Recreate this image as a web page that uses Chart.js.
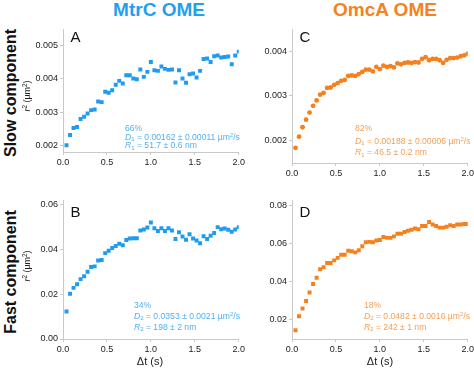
<!DOCTYPE html>
<html>
<head>
<meta charset="utf-8">
<script src="https://cdn.jsdelivr.net/npm/chart.js@4.4.1/dist/chart.umd.min.js"></script>
<style>
  html, body { margin:0; padding:0; background:#fff; width:474px; height:368px; overflow:hidden; }
  body { position:relative; font-family:"Liberation Sans", Arial, sans-serif; }
  canvas { position:absolute; }
  .t { position:absolute; white-space:nowrap; line-height:1; }
  .c { transform:translate(-50%,-50%); }
  .r { transform:translate(-50%,-50%) rotate(-90deg); }
  .l { transform:translateY(-50%); }
  sup, sub { font-size:0.7em; line-height:0; position:relative; vertical-align:baseline; }
  sup { top:-0.45em; }
  sub { top:0.3em; }
  .ann { font-size:8.6px; }
</style>
</head>
<body>
<canvas id="cA"></canvas>
<canvas id="cB"></canvas>
<canvas id="cC"></canvas>
<canvas id="cD"></canvas>

<div class="t c" style="left:159px;top:9px;font-size:19px;font-weight:bold;color:#239ff0;">MtrC OME</div>
<div class="t c" style="left:385px;top:9px;font-size:19px;font-weight:bold;color:#f58220;">OmcA OME</div>
<div class="t r" style="left:11px;top:93px;font-size:16px;font-weight:bold;color:#111;">Slow component</div>
<div class="t r" style="left:11px;top:272px;font-size:16px;font-weight:bold;color:#111;">Fast component</div>
<div class="t r" style="left:27px;top:96px;font-size:9px;color:#222;"><i>r</i><sup>2</sup> (µm<sup>2</sup>)</div>
<div class="t r" style="left:27px;top:266px;font-size:9px;color:#222;"><i>r</i><sup>2</sup> (µm<sup>2</sup>)</div>
<div class="t c" style="left:150px;top:361px;font-size:11px;color:#222;">Δt (s)</div>
<div class="t c" style="left:380px;top:361px;font-size:11px;color:#222;">Δt (s)</div>

<div class="t c" style="left:75.5px;top:35.5px;font-size:15px;color:#111;">A</div>
<div class="t c" style="left:75.5px;top:211px;font-size:15px;color:#111;">B</div>
<div class="t c" style="left:305px;top:36px;font-size:15px;color:#111;">C</div>
<div class="t c" style="left:305px;top:211px;font-size:15px;color:#111;">D</div>

<div class="t l ann" style="left:125px;top:128px;color:#52b0f2;">66%</div>
<div class="t l ann" style="left:125px;top:136.5px;color:#52b0f2;"><i>D</i><sub>1</sub> = 0.00162 ± 0.00011 µm<sup>2</sup>/s</div>
<div class="t l ann" style="left:125px;top:145px;color:#52b0f2;"><i>R</i><sub>1</sub> = 51.7 ± 0.6 nm</div>

<div class="t l ann" style="left:355px;top:128px;color:#f5a055;">82%</div>
<div class="t l ann" style="left:355px;top:140.5px;color:#f5a055;"><i>D</i><sub>1</sub> = 0.00188 ± 0.00006 µm<sup>2</sup>/s</div>
<div class="t l ann" style="left:355px;top:152px;color:#f5a055;"><i>R</i><sub>1</sub> = 46.5 ± 0.2 nm</div>

<div class="t l ann" style="left:134px;top:305px;color:#52b0f2;">34%</div>
<div class="t l ann" style="left:134px;top:315.5px;color:#52b0f2;"><i>D</i><sub>2</sub> = 0.0353 ± 0.0021 µm<sup>2</sup>/s</div>
<div class="t l ann" style="left:134px;top:326.5px;color:#52b0f2;"><i>R</i><sub>2</sub> = 198 ± 2 nm</div>

<div class="t l ann" style="left:364px;top:305px;color:#f5a055;">18%</div>
<div class="t l ann" style="left:364px;top:315.5px;color:#f5a055;"><i>D</i><sub>2</sub> = 0.0482 ± 0.0016 µm<sup>2</sup>/s</div>
<div class="t l ann" style="left:364px;top:326.5px;color:#f5a055;"><i>R</i><sub>2</sub> = 242 ± 1 nm</div>

<script>
// ---- data ----
const dt = [0.04,0.08,0.12,0.16,0.20,0.24,0.28,0.32,0.36,0.40,
            0.44,0.48,0.52,0.56,0.60,0.64,0.68,0.72,0.76,0.80,
            0.84,0.88,0.92,0.96,1.00,1.04,1.08,1.12,1.16,1.20,
            1.24,1.28,1.32,1.36,1.40,1.44,1.48,1.52,1.56,1.60,
            1.64,1.68,1.72,1.76,1.80,1.84,1.88,1.92,1.96,2.00];

const slowMtrC = [0.00200,0.00231,0.00252,0.00255,0.00279,0.00286,0.00296,0.00306,0.00308,0.00332,
                  0.00330,0.00361,0.00358,0.00366,0.00382,0.00394,0.00386,0.00411,0.00411,0.00401,
                  0.00399,0.00428,0.00406,0.00421,0.00451,0.00426,0.00424,0.00437,0.00430,0.00427,
                  0.00428,0.00389,0.00426,0.00401,0.00388,0.00414,0.00416,0.00404,0.00424,0.00460,
                  0.00461,0.00451,0.00468,0.00470,0.00464,0.00466,0.00467,0.00444,0.00470,0.00482];

const fastMtrC = [0.0123,0.0202,0.0228,0.0244,0.0267,0.0280,0.0300,0.0321,0.0324,0.0350,
                  0.0352,0.0383,0.0394,0.0406,0.0415,0.0425,0.0418,0.0442,0.0448,0.0449,
                  0.0449,0.0484,0.0488,0.0497,0.0520,0.0494,0.0482,0.0494,0.0482,0.0494,
                  0.0484,0.0446,0.0476,0.0457,0.0443,0.0467,0.0448,0.0439,0.0427,0.0458,
                  0.0446,0.0461,0.0473,0.0499,0.0490,0.0493,0.0487,0.0478,0.0488,0.0499];

const slowOmcA = [0.00184,0.00209,0.00230,0.00247,0.00263,0.00278,0.00290,0.00303,0.00307,0.00318,
                  0.00319,0.00325,0.00329,0.00334,0.00336,0.00345,0.00346,0.00345,0.00349,0.00354,
                  0.00359,0.00359,0.00355,0.00365,0.00360,0.00368,0.00365,0.00367,0.00364,0.00373,
                  0.00371,0.00374,0.00375,0.00374,0.00376,0.00375,0.00383,0.00387,0.00380,0.00383,
                  0.00383,0.00380,0.00374,0.00381,0.00385,0.00385,0.00386,0.00389,0.00391,0.00395];

const fastOmcA = [0.0146,0.0219,0.0260,0.0300,0.0344,0.0389,0.0422,0.0466,0.0477,0.0499,
                  0.0499,0.0513,0.0526,0.0543,0.0543,0.0564,0.0561,0.0555,0.0566,0.0587,
                  0.0608,0.0610,0.0608,0.0617,0.0620,0.0636,0.0631,0.0631,0.0639,0.0653,
                  0.0653,0.0662,0.0669,0.0674,0.0680,0.0676,0.0694,0.0694,0.0715,0.0701,
                  0.0694,0.0685,0.0685,0.0690,0.0697,0.0694,0.0701,0.0701,0.0704,0.0704];

const xTicks  = [0.0, 0.5, 1.0, 1.5, 2.0];
const yTicksA = [0.002, 0.003, 0.004, 0.005];
const yTicksB = [0.00, 0.02, 0.04, 0.06];
const yTicksC = [0.002, 0.003, 0.004];
const yTicksD = [0.02, 0.04, 0.06, 0.08];

// ---- rendering ----
const BLUE = '#1f9bf0';
const ORANGE = '#f5801e';
const AXIS = '#c9c9c9';
const FONT = '"Liberation Sans", Arial, sans-serif';
const WY = 40, HX = 20, PADT = 8, PADR = 8;

function panel(id, box, values, color, style, radius, yRange, yTicks, yDec) {
  const cv = document.getElementById(id);
  const w = (box.r - box.l) + WY + PADR;
  const h = (box.b - box.t) + PADT + HX;
  cv.width = w; cv.height = h;
  cv.style.left = (box.l - WY) + 'px';
  cv.style.top = (box.t - PADT) + 'px';
  cv.style.width = w + 'px'; cv.style.height = h + 'px';
  const pts = dt.map((x, i) => ({ x: x, y: values[i] }));
  new Chart(cv, {
    type: 'scatter',
    data: { datasets: [{ data: pts, backgroundColor: color, borderWidth: 0,
                         pointStyle: style, pointRadius: radius, pointHoverRadius: radius }] },
    options: {
      responsive: false, animation: false, devicePixelRatio: 1,
      layout: { padding: { top: PADT, right: PADR, left: 0, bottom: 0 } },
      plugins: { legend: { display: false }, tooltip: { enabled: false } },
      scales: {
        x: {
          type: 'linear', min: 0, max: 2.0,
          afterBuildTicks: s => { s.ticks = xTicks.map(v => ({ value: v })); },
          afterFit: s => { s.height = HX; },
          border: { display: true, color: AXIS, width: 1 },
          grid: { drawOnChartArea: false, drawTicks: true, tickLength: 3, color: AXIS },
          ticks: { autoSkip: false, maxRotation: 0, padding: 2, color: '#222',
                   font: { family: FONT, size: 9 }, callback: v => v.toFixed(1) }
        },
        y: {
          type: 'linear', min: yRange[0], max: yRange[1],
          afterBuildTicks: s => { s.ticks = yTicks.map(v => ({ value: v })); },
          afterFit: s => { s.width = WY; },
          border: { display: true, color: AXIS, width: 1 },
          grid: { drawOnChartArea: false, drawTicks: true, tickLength: 3, color: AXIS },
          ticks: { padding: 2, color: '#222', font: { family: FONT, size: 9 },
                   callback: v => v.toFixed(yDec) }
        }
      }
    }
  });
}

panel('cA', { l: 63,  r: 239, t: 29,  b: 152 }, slowMtrC, BLUE,   'rect',   2.8, [0.0018, 0.0055], yTicksA, 3);
panel('cC', { l: 292, r: 468, t: 29,  b: 163 }, slowOmcA, ORANGE, 'circle', 2.4, [0.0015, 0.0045], yTicksC, 3);
panel('cB', { l: 63,  r: 239, t: 200, b: 339 }, fastMtrC, BLUE,   'rect',   2.8, [0.0, 0.062],     yTicksB, 2);
panel('cD', { l: 292, r: 468, t: 200, b: 339 }, fastOmcA, ORANGE, 'rect',   2.8, [0.01, 0.083],    yTicksD, 2);
</script>
</body>
</html>
